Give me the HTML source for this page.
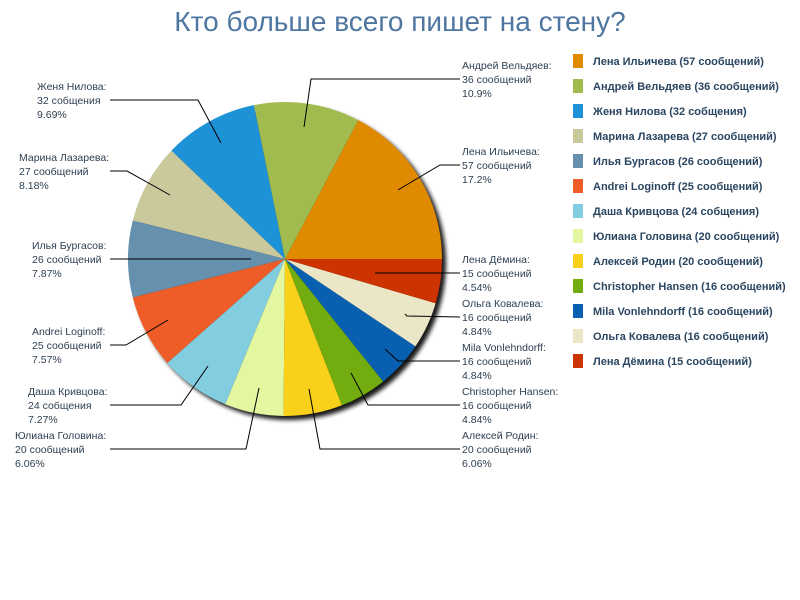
<!DOCTYPE html>
<html><head><meta charset="utf-8"><style>
body{margin:0;background:#fff;width:800px;height:600px;overflow:hidden}
svg{display:block}
.t{font-family:"Liberation Sans",sans-serif;font-size:10.5px;fill:#2e4052}
.l{font-family:"Liberation Sans",sans-serif;font-size:11px;font-weight:bold;fill:#2a4660}
</style></head><body>
<svg id="s" width="800" height="600" xmlns="http://www.w3.org/2000/svg">
<defs><filter id="f" x="-20%" y="-20%" width="140%" height="140%"><feGaussianBlur stdDeviation="2"/></filter></defs>
<text x="400" y="31" text-anchor="middle" font-family="'Liberation Sans',sans-serif" font-size="28" fill="#4e76a0">Кто больше всего пишет на стену?</text>
<circle cx="289" cy="263" r="157" fill="#000" filter="url(#f)" opacity="0.9"/>
<g id="pie"></g>
<g stroke="#000" stroke-width="1" fill="none">
<polyline points="110,100 198,100 221,143"/>
<polyline points="110,171 127,171 170,195"/>
<polyline points="110,259 251,259"/>
<polyline points="110,345 126,345 168,320"/>
<polyline points="110,405 181,405 208,366"/>
<polyline points="110,449 246,449 259,388"/>
<polyline points="460,79 311,79 304,127"/>
<polyline points="460,165 440,165 398,190"/>
<polyline points="460,273 375,273"/>
<polyline points="460,317 407,316 405,314"/>
<polyline points="460,361 398,361 385,349"/>
<polyline points="460,405 368,405 351,373"/>
<polyline points="460,449 320,449 309,389"/>
</g>
<g class="t">
<text x="37" y="90">Женя Нилова:</text><text x="37" y="104">32 собщения</text><text x="37" y="118">9.69%</text>
<text x="19" y="161">Марина Лазарева:</text><text x="19" y="175">27 сообщений</text><text x="19" y="189">8.18%</text>
<text x="32" y="249">Илья Бургасов:</text><text x="32" y="263">26 сообщений</text><text x="32" y="277">7.87%</text>
<text x="32" y="335">Andrei Loginoff:</text><text x="32" y="349">25 сообщений</text><text x="32" y="363">7.57%</text>
<text x="28" y="395">Даша Кривцова:</text><text x="28" y="409">24 собщения</text><text x="28" y="423">7.27%</text>
<text x="15" y="439">Юлиана Головина:</text><text x="15" y="453">20 сообщений</text><text x="15" y="467">6.06%</text>
<text x="462" y="69">Андрей Вельдяев:</text><text x="462" y="83">36 сообщений</text><text x="462" y="97">10.9%</text>
<text x="462" y="155">Лена Ильичева:</text><text x="462" y="169">57 сообщений</text><text x="462" y="183">17.2%</text>
<text x="462" y="263">Лена Дёмина:</text><text x="462" y="277">15 сообщений</text><text x="462" y="291">4.54%</text>
<text x="462" y="307">Ольга Ковалева:</text><text x="462" y="321">16 сообщений</text><text x="462" y="335">4.84%</text>
<text x="462" y="351">Mila Vonlehndorff:</text><text x="462" y="365">16 сообщений</text><text x="462" y="379">4.84%</text>
<text x="462" y="395">Christopher Hansen:</text><text x="462" y="409">16 сообщений</text><text x="462" y="423">4.84%</text>
<text x="462" y="439">Алексей Родин:</text><text x="462" y="453">20 сообщений</text><text x="462" y="467">6.06%</text>
</g>
<g id="leg"></g>
</svg>
<script>
var d=[["Лена Ильичева (57 сообщений)",57,"#e08a00"],["Андрей Вельдяев (36 сообщений)",36,"#a2bb4e"],["Женя Нилова (32 собщения)",32,"#1d92d6"],["Марина Лазарева (27 сообщений)",27,"#c9c99c"],["Илья Бургасов (26 сообщений)",26,"#6591af"],["Andrei Loginoff (25 сообщений)",25,"#ee5c28"],["Даша Кривцова (24 собщения)",24,"#82cde0"],["Юлиана Головина (20 сообщений)",20,"#e2f7a0"],["Алексей Родин (20 сообщений)",20,"#fad11a"],["Christopher Hansen (16 сообщений)",16,"#72ac0e"],["Mila Vonlehndorff (16 сообщений)",16,"#0960b0"],["Ольга Ковалева (16 сообщений)",16,"#ebe6c6"],["Лена Дёмина (15 сообщений)",15,"#cc3300"]];
var ns="http://www.w3.org/2000/svg",cx=285,cy=259,r=157,a=0,pie=document.getElementById("pie"),leg=document.getElementById("leg");
d.forEach(function(e,i){var b=a+e[1]/330*2*Math.PI;
var x1=cx+r*Math.cos(a),y1=cy-r*Math.sin(a),x2=cx+r*Math.cos(b),y2=cy-r*Math.sin(b);
var p=document.createElementNS(ns,"path");
p.setAttribute("d","M"+cx+","+cy+"L"+x1+","+y1+"A"+r+","+r+" 0 "+((b-a)>Math.PI?1:0)+" 0 "+x2+","+y2+"Z");
p.setAttribute("fill",e[2]);pie.appendChild(p);a=b;
var y=61+i*25,q=document.createElementNS(ns,"rect");q.setAttribute("x",573);q.setAttribute("y",y-7);q.setAttribute("width",10);q.setAttribute("height",14);q.setAttribute("fill",e[2]);leg.appendChild(q);
var t=document.createElementNS(ns,"text");t.setAttribute("x",593);t.setAttribute("y",y+4);t.setAttribute("class","l");t.textContent=e[0];leg.appendChild(t);});
</script>
</body></html>
